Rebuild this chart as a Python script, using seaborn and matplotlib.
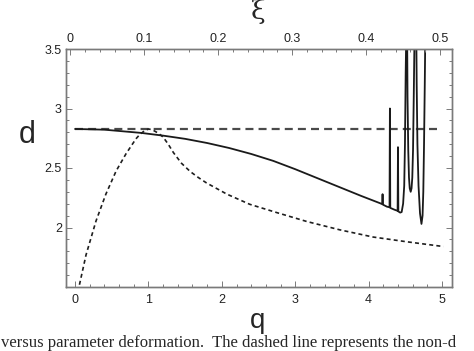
import matplotlib
matplotlib.use("Agg")
import matplotlib.pyplot as plt
import seaborn as sns
from matplotlib.ticker import FixedLocator, MultipleLocator

# ---------------- data ----------------
q_solid = [0.00, 0.40, 0.90, 1.20, 1.50, 1.80, 2.10, 2.40, 2.70, 3.00, 3.30,
           3.60, 3.90, 4.16, 4.185, 4.19, 4.195, 4.25, 4.285, 4.29, 4.295,
           4.35, 4.395, 4.40, 4.405, 4.43, 4.45, 4.47, 4.485, 4.495, 4.505, 4.512,
           4.525, 4.53, 4.54, 4.55, 4.56, 4.573, 4.585, 4.595, 4.605, 4.615, 4.625,
           4.65, 4.655, 4.665, 4.68, 4.70, 4.72, 4.735, 4.745, 4.755, 4.765, 4.772]
d_solid = [2.828, 2.822, 2.795, 2.772, 2.745, 2.710, 2.668, 2.618, 2.560, 2.490, 2.415,
           2.340, 2.265, 2.203, 2.196, 2.280, 2.192, 2.175, 2.170, 3.000, 2.165,
           2.150, 2.140, 2.675, 2.135, 2.125, 2.130, 2.200, 2.350, 2.700, 3.300, 3.600,
           3.600, 3.100, 2.650, 2.420, 2.330, 2.300, 2.330, 2.420, 2.650, 3.100, 3.600,
           3.600, 3.200, 2.700, 2.350, 2.120, 2.030, 2.100, 2.300, 2.700, 3.200, 3.600]

q_dotted = [0.03, 0.05, 0.15, 0.286, 0.42, 0.56, 0.695, 0.83, 0.88, 0.94, 1.00,
            1.05, 1.10, 1.15, 1.20, 1.27, 1.34, 1.45, 1.57, 1.68, 1.79, 2.07, 2.38,
            2.75, 3.16, 3.61, 4.06, 4.52, 5.02]
d_dotted = [1.40, 1.49, 1.77, 2.055, 2.28, 2.475, 2.62, 2.745, 2.78, 2.81, 2.828,
            2.822, 2.805, 2.785, 2.76, 2.70, 2.63, 2.54, 2.47, 2.42, 2.375, 2.28, 2.195,
            2.125, 2.05, 1.98, 1.92, 1.88, 1.84]

q_ref = [0.0, 5.0]
d_ref = [2.828, 2.828]

q_ticks = [0, 1, 2, 3, 4, 5]
q_labels = ["0", "1", "2", "3", "4", "5"]
d_ticks = [2.0, 2.5, 3.0, 3.5]
d_labels = ["2", "2.5", "3", "3.5"]
xi_ticks = [0.0, 0.1, 0.2, 0.3, 0.4, 0.5]
xi_labels = ["0", "0.1", "0.2", "0.3", "0.4", "0.5"]

caption = "versus parameter deformation.  The dashed line represents the non-d"

# ---------------- figure ----------------
sns.set_style("ticks")
plt.rcParams["font.family"] = ["Liberation Sans", "DejaVu Sans"]

W, H = 474, 351
fig = plt.figure(figsize=(W / 100, H / 100), dpi=100)
ax = fig.add_axes([66 / W, 1 - 287 / H, (452 - 66) / W, (287 - 49) / H])

sns.lineplot(x=q_ref, y=d_ref, ax=ax, color="#4a4a4a", lw=1.6,
             linestyle=(0, (3.6, 2.3)), sort=False, estimator=None)
sns.lineplot(x=q_dotted, y=d_dotted, ax=ax, color="#1e1e1e", lw=1.2,
             linestyle=(0, (2.4, 1.9)), sort=False, estimator=None)
sns.lineplot(x=q_solid, y=d_solid, ax=ax, color="#1a1a1a", lw=1.3,
             sort=False, estimator=None)

ax.set_xlim(-0.123, 5.136)
ax.set_ylim(1.5, 3.5)
ax.xaxis.set_major_locator(FixedLocator(q_ticks))
ax.set_xticklabels(q_labels)
ax.yaxis.set_major_locator(FixedLocator(d_ticks))
ax.set_yticklabels(d_labels)
ax.xaxis.set_minor_locator(MultipleLocator(0.2))
ax.yaxis.set_minor_locator(MultipleLocator(0.1))
ax.set_xlabel("")
ax.set_ylabel("")

frame_col = "#7a7a7a"
for s in ax.spines.values():
    s.set_color(frame_col)
    s.set_linewidth(1.0)
ax.tick_params(which="both", direction="in", color=frame_col, width=0.7,
               right=True, top=False, labelsize=9, labelcolor="#222222")
ax.tick_params(which="major", length=4.5)
ax.tick_params(which="minor", length=2.5)
ax.tick_params(axis="x", pad=5)
ax.tick_params(axis="y", pad=3)

ax2 = ax.twiny()
ax2.set_xlim((-0.123 + 0.063) / 10.07, (5.136 + 0.063) / 10.07)
ax2.xaxis.set_major_locator(FixedLocator(xi_ticks))
ax2.set_xticklabels(xi_labels)
ax2.xaxis.set_minor_locator(MultipleLocator(0.02))
for s in ax2.spines.values():
    s.set_color(frame_col)
    s.set_linewidth(1.0)
ax2.tick_params(which="both", direction="in", color=frame_col, width=0.7,
                labelsize=9, labelcolor="#222222", pad=3)
ax2.tick_params(which="major", length=4.5)
ax2.tick_params(which="minor", length=2.5)

fig.text(27 / W, 1 - 135 / H, "d", fontsize=22, ha="center", va="center")
fig.text(258 / W, 1 - 321 / H, "q", fontsize=20, ha="center", va="center")
fig.text(258 / W, 1 - 12 / H, "ξ", fontsize=19, ha="center", va="center",
         family=["DejaVu Serif", "DejaVu Sans"])
fig.text(1 / W, 1 - 347 / H, caption, fontsize=12, ha="left", va="baseline",
         family=["Liberation Serif", "DejaVu Serif"])

fig.savefig("out.png", dpi=100)
